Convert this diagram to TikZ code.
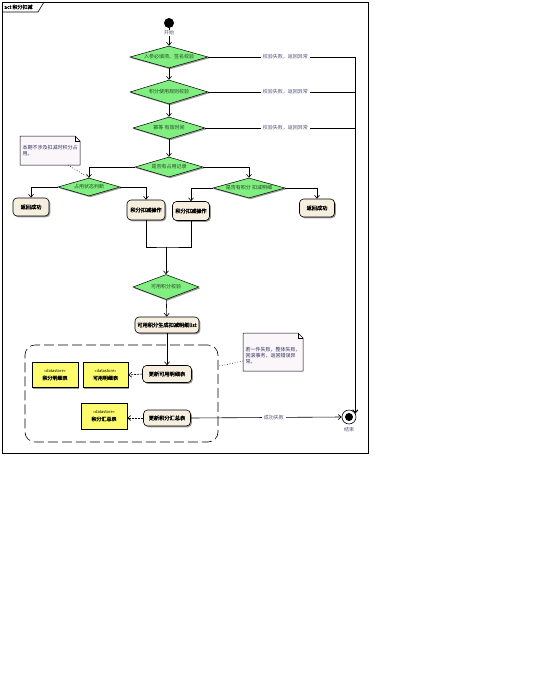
\documentclass[tikz,border=0pt]{standalone}
\usepackage{fontspec}
\setmainfont{Noto Sans CJK SC}
\newfontfamily\cjkb[FakeBold=1.6]{Noto Sans CJK SC}
\usetikzlibrary{shapes.geometric,arrows.meta,shadows,calc}
\definecolor{dgreen}{RGB}{128,238,128}
\definecolor{dtext}{RGB}{40,70,40}
\definecolor{abeige}{RGB}{246,238,222}
\definecolor{dsyellow}{RGB}{252,252,110}
\definecolor{notefill}{RGB}{250,246,250}
\definecolor{lblc}{RGB}{80,80,120}
\definecolor{notetext}{RGB}{50,50,90}
\begin{document}
\begin{tikzpicture}[x=1pt,y=-1pt,
  font=\fontsize{5}{6}\selectfont,
  shad/.style={drop shadow={shadow xshift=1.3pt,shadow yshift=-1.3pt,fill=black!40,opacity=1}},
  dec/.style={diamond,draw=black,line width=0.5pt,fill=dgreen,inner sep=0pt,text=dtext,shad},
  actbox/.style={rectangle,rounded corners=4pt,draw=black,line width=0.6pt,fill=abeige,inner sep=0pt,
    font=\cjkb\fontsize{5.2}{6}\selectfont,shad},
  dsbox/.style={rectangle,draw=black,line width=0.6pt,fill=dsyellow,inner sep=0pt,align=center,
    font=\cjkb\fontsize{5}{7}\selectfont,shad},
  notebox/.style={rectangle,inner sep=2pt,align=left,text=notetext,anchor=north west},
  flow/.style={draw=black,line width=0.6pt,-{Straight Barb[length=3pt,width=5pt]}},
  lbl/.style={fill=white,text=lblc,inner sep=2pt},
]
\useasboundingbox (0,0) rectangle (554,683);
\fill[white] (0,0) rectangle (554,683);
% frame
\draw[line width=0.6pt] (2,2) rectangle (368,453);
\draw[line width=0.6pt] (2,12) -- (38,12) -- (44,2);
\node[anchor=west,inner sep=0pt,font=\cjkb\fontsize{5}{6}\selectfont] (title) at (4,7) {act 积分扣减};

% start / end
\node[circle,fill=black,minimum size=10pt,inner sep=0pt] (start) at (169,23) {};
\node[circle,draw=black,line width=0.6pt,fill=white,minimum size=14pt,inner sep=0pt] (end) at (349,417) {};
\node[circle,fill=black,minimum size=8pt,inner sep=0pt] (endin) at (349,417) {};

% decisions
\node[dec,minimum width=78pt,minimum height=22pt,aspect=3.5] (d1) at (169,57) {入参必填项、签名校验};
\node[dec,minimum width=78pt,minimum height=24pt,aspect=3.3] (d2) at (169,92) {积分使用规则校验};
\node[dec,minimum width=72pt,minimum height=22pt,aspect=3.3] (d3) at (169,128) {幂等 有效时间};
\node[dec,minimum width=68pt,minimum height=20pt,aspect=3.4] (d4) at (169,167) {是否有占用记录};
\node[dec,minimum width=62pt,minimum height=18pt,aspect=3.4] (d5) at (89,187) {占用状态判断};
\node[dec,minimum width=72pt,minimum height=20pt,aspect=3.6] (d6) at (249,188) {是否有积分 扣减明细};
\node[dec,minimum width=66pt,minimum height=25pt,aspect=2.7] (d7) at (166,287) {可用积分校验};

% actions
\node[actbox,minimum width=36pt,minimum height=18pt] (ret1) at (31,207) {返回成功};
\node[actbox,minimum width=38pt,minimum height=20pt] (op1) at (146,210) {积分扣减操作};
\node[actbox,minimum width=37pt,minimum height=19pt] (op2) at (191,211) {积分扣减操作};
\node[actbox,minimum width=35pt,minimum height=18pt] (ret2) at (317,208) {返回成功};
\node[actbox,minimum width=64pt,minimum height=16pt] (gen) at (167,325) {可用积分生成扣减明细list};

% group
\node[draw=black,line width=0.6pt,dash pattern=on 10pt off 4pt,rounded corners=10pt,
  minimum width=193pt,minimum height=97pt,inner sep=0pt] (grp) at (121.5,393.5) {};

\node[actbox,minimum width=49pt,minimum height=17pt] (up1) at (167,374) {更新可用明细表};
\node[actbox,minimum width=47pt,minimum height=16pt] (up2) at (167,418) {更新积分汇总表};

\node[dsbox,minimum width=46pt,minimum height=25pt] (ds1) at (55,375)
  {{\fontspec{Noto Sans CJK SC}\fontsize{4}{5}\selectfont «datastore»}\\积分明细表};
\node[dsbox,minimum width=45pt,minimum height=25pt] (ds2) at (105.5,375)
  {{\fontspec{Noto Sans CJK SC}\fontsize{4}{5}\selectfont «datastore»}\\可用明细表};
\node[dsbox,minimum width=46pt,minimum height=26pt] (ds3) at (104,416)
  {{\fontspec{Noto Sans CJK SC}\fontsize{4}{5}\selectfont «datastore»}\\积分汇总表};

% notes
\coordinate (n1a) at (20,136);
\coordinate (n1b) at (80,165);
\filldraw[fill=notefill,draw=black,line width=0.5pt]
  (20,136) -- (75,136) -- (80,141) -- (80,165) -- (20,165) -- cycle;
\draw[line width=0.4pt] (75,136) -- (75,141) -- (80,141);
\node[notebox,minimum width=60pt,minimum height=29pt,anchor=north west] (note1) at (20,136)
  {本期不涉及扣减时积分占\\用。};

\filldraw[fill=notefill,draw=black,line width=0.5pt]
  (243,333) -- (298,333) -- (303,338) -- (303,371) -- (243,371) -- cycle;
\draw[line width=0.4pt] (298,333) -- (298,338) -- (303,338);
\node[notebox,minimum width=60pt,minimum height=38pt,anchor=north west] (note2) at (243,336)
  {若一件失败，整体失败，\\回滚事务，返回错误异\\常。};

% labels
\node[text=lblc,inner sep=0.5pt] (endl) at (349,430) {结束};

% connectors
\draw[flow] (start) -- (d1);
\draw[flow] (d1) -- (d2);
\draw[flow] (d2) -- (d3);
\draw[flow] (d3) -- (d4);
\node[fill=white,text=lblc,inner sep=0.5pt] (startl) at (169,33) {开始};

\draw[flow] (d1.east) -| (end.30) node[lbl,pos=0.262] {校验失败，返回异常};
\draw[flow] (d2.east) -| (end.30) node[lbl,pos=0.262] {校验失败，返回异常};
\draw[flow] (d3.east) -| (end.30) node[lbl,pos=0.267] {校验失败，返回异常};

\draw[flow] (d4.west) -| (d5.north);
\draw[flow] (d4.east) -| (d6.north);
\draw[flow] (d5.west) -| (ret1.north);
\draw[flow] (d5.east) -| (op1.north);
\draw[flow] (d6.west) -| (op2.north);
\draw[flow] (d6.east) -| (ret2.north);

\coordinate (join) at (166,247);
\draw[line width=0.6pt] (op1.south) |- (join) -| (op2.south);
\draw[flow] (join) -- (d7.north);
\draw[flow] (d7) -- (gen);
\draw[flow] (gen) -- (up1);

\draw[flow,dash pattern=on 2pt off 1pt] (up1.west) -- (ds2.east);
\draw[flow,dash pattern=on 2pt off 1pt] (up2.west) -- (ds3.east |- up2.west);
\draw[flow] (up2.east) -- (end.west) node[lbl,pos=0.55] {成功失败};

\draw[dotted,line width=0.6pt] ($(n1a|-n1b)!0.8!(n1b)$) -- (d5.north);
\draw[dotted,line width=0.6pt] (243,361) -- ($(grp.north east)!0.22!(grp.south east)$);
\end{tikzpicture}
\end{document}
